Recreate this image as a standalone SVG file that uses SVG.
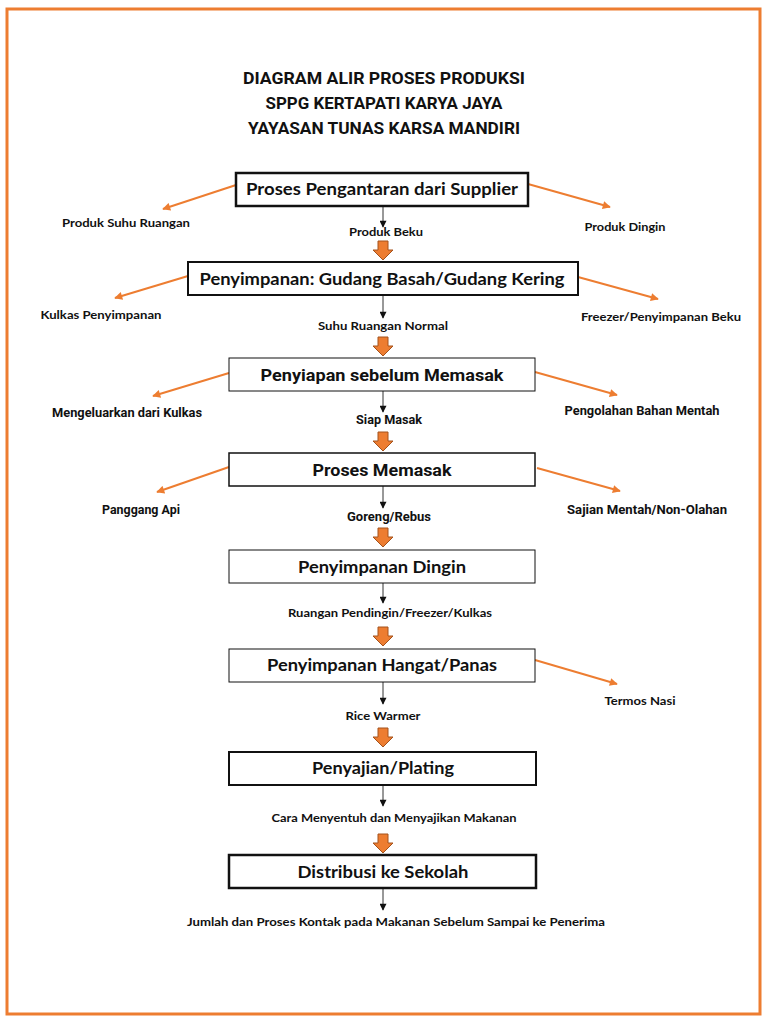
<svg xmlns="http://www.w3.org/2000/svg" width="768" height="1024" viewBox="0 0 768 1024">
<defs>
<style>
.frame{fill:#fff;stroke:#ED7D31;stroke-width:3}
.box{fill:#fff;stroke:#111}
.t{font-family:Lato,"Liberation Sans",sans-serif;font-weight:700;font-size:17px;fill:#111;text-anchor:middle}
.tc{font-family:Roboto,"Liberation Sans",sans-serif;font-weight:700;font-size:17px;fill:#111;text-anchor:middle}
.title{font-family:Roboto,"Liberation Sans",sans-serif;font-weight:700;font-size:16px;fill:#111;text-anchor:middle}
.l{font-family:Lato,"Liberation Sans",sans-serif;font-weight:700;font-size:11.5px;fill:#111;text-anchor:middle}
.lc{font-family:Roboto,"Liberation Sans",sans-serif;font-weight:700;font-size:12px;fill:#111;text-anchor:middle}
.side{stroke:#ED7D31;stroke-width:2;fill:none;marker-end:url(#oh)}
.down{stroke:#333;stroke-width:1;fill:none;marker-end:url(#bh)}
.blk{fill:#ED7D31;stroke:#A4521C;stroke-width:1}
</style>
<marker id="oh" viewBox="0 0 10 10" refX="9" refY="5" markerWidth="9" markerHeight="8" markerUnits="userSpaceOnUse" orient="auto">
<path d="M0,0 L10,5 L0,10 z" fill="#ED7D31"/>
</marker>
<marker id="bh" viewBox="0 0 10 10" refX="9" refY="5" markerWidth="8" markerHeight="7" markerUnits="userSpaceOnUse" orient="auto">
<path d="M0,0 L10,5 L0,10 z" fill="#111"/>
</marker>
<path id="ba" d="M-5,0 h10 v9 h5 l-10,10 l-10,-10 h5 z"/>
</defs>

<rect class="frame" x="7" y="9" width="753" height="1005"/>

<g id="title">
<text class="title" x="384" y="84" textLength="282" lengthAdjust="spacingAndGlyphs">DIAGRAM ALIR PROSES PRODUKSI</text>
<text class="title" x="384" y="109" textLength="237" lengthAdjust="spacingAndGlyphs">SPPG KERTAPATI KARYA JAYA</text>
<text class="title" x="384" y="134" textLength="272" lengthAdjust="spacingAndGlyphs">YAYASAN TUNAS KARSA MANDIRI</text>
</g>

<g id="connectors">
<line class="side" x1="236" y1="185" x2="163" y2="209"/>
<line class="side" x1="528" y1="184" x2="610" y2="207"/>
<line class="side" x1="188" y1="276" x2="115" y2="298"/>
<line class="side" x1="578" y1="277" x2="658" y2="299"/>
<line class="side" x1="229" y1="373" x2="153" y2="396"/>
<line class="side" x1="535" y1="372" x2="617" y2="395"/>
<line class="side" x1="229" y1="467" x2="157" y2="492"/>
<line class="side" x1="537" y1="468" x2="620" y2="491"/>
<line class="side" x1="535" y1="660" x2="617" y2="684"/>

<line class="down" x1="383" y1="206" x2="383" y2="227"/>
<line class="down" x1="383" y1="295" x2="383" y2="318"/>
<line class="down" x1="383" y1="391" x2="383" y2="412"/>
<line class="down" x1="383" y1="486" x2="383" y2="508"/>
<line class="down" x1="383" y1="583" x2="383" y2="603"/>
<line class="down" x1="383" y1="682" x2="383" y2="704"/>
<line class="down" x1="383" y1="785" x2="383" y2="806"/>
<line class="down" x1="383" y1="888" x2="383" y2="910"/>

<use href="#ba" class="blk" x="383" y="241"/>
<use href="#ba" class="blk" x="383" y="337"/>
<use href="#ba" class="blk" x="383" y="432"/>
<use href="#ba" class="blk" x="383" y="528"/>
<use href="#ba" class="blk" x="383" y="627"/>
<use href="#ba" class="blk" x="383" y="728"/>
<use href="#ba" class="blk" x="383" y="834"/>
</g>

<g id="n1">
<rect class="box" x="236" y="173" width="292" height="33" stroke-width="2.5"/>
<text class="t" x="382" y="194.5" textLength="272" lengthAdjust="spacingAndGlyphs">Proses Pengantaran dari Supplier</text>
</g>
<g id="n2">
<rect class="box" x="188" y="262" width="390" height="33" stroke-width="2"/>
<text class="t" x="382" y="284.5" textLength="365" lengthAdjust="spacingAndGlyphs">Penyimpanan: Gudang Basah/Gudang Kering</text>
</g>
<g id="n3">
<rect class="box" x="229" y="358" width="306" height="33" stroke-width="1"/>
<text class="tc" x="382" y="380.5" textLength="243" lengthAdjust="spacingAndGlyphs">Penyiapan sebelum Memasak</text>
</g>
<g id="n4">
<rect class="box" x="229" y="453" width="306" height="33" stroke-width="1.5"/>
<text class="tc" x="382" y="475.5" textLength="139" lengthAdjust="spacingAndGlyphs">Proses Memasak</text>
</g>
<g id="n5">
<rect class="box" x="229" y="550" width="306" height="33" stroke-width="1"/>
<text class="t" x="382" y="572.5" textLength="168" lengthAdjust="spacingAndGlyphs">Penyimpanan Dingin</text>
</g>
<g id="n6">
<rect class="box" x="229" y="649" width="306" height="33" stroke-width="1"/>
<text class="t" x="382" y="670.5" textLength="230" lengthAdjust="spacingAndGlyphs">Penyimpanan Hangat/Panas</text>
</g>
<g id="n7">
<rect class="box" x="229" y="752" width="307" height="33" stroke-width="2"/>
<text class="t" x="383" y="773.5" textLength="142" lengthAdjust="spacingAndGlyphs">Penyajian/Plating</text>
</g>
<g id="n8">
<rect class="box" x="229" y="855" width="307" height="33" stroke-width="2.5"/>
<text class="t" x="383" y="877.5" textLength="171" lengthAdjust="spacingAndGlyphs">Distribusi ke Sekolah</text>
</g>

<g id="labels">
<text class="l" x="126" y="227" textLength="128" lengthAdjust="spacingAndGlyphs">Produk Suhu Ruangan</text>
<text class="l" x="386" y="236" textLength="74" lengthAdjust="spacingAndGlyphs">Produk Beku</text>
<text class="l" x="625" y="231" textLength="81" lengthAdjust="spacingAndGlyphs">Produk Dingin</text>
<text class="l" x="101" y="319" textLength="121" lengthAdjust="spacingAndGlyphs">Kulkas Penyimpanan</text>
<text class="l" x="383" y="330" textLength="130" lengthAdjust="spacingAndGlyphs">Suhu Ruangan Normal</text>
<text class="l" x="661" y="321" textLength="160" lengthAdjust="spacingAndGlyphs">Freezer/Penyimpanan Beku</text>
<text class="lc" x="127" y="417" textLength="150" lengthAdjust="spacingAndGlyphs">Mengeluarkan dari Kulkas</text>
<text class="lc" x="389" y="424" textLength="66" lengthAdjust="spacingAndGlyphs">Siap Masak</text>
<text class="lc" x="642" y="415" textLength="155" lengthAdjust="spacingAndGlyphs">Pengolahan Bahan Mentah</text>
<text class="lc" x="141" y="514" textLength="78" lengthAdjust="spacingAndGlyphs">Panggang Api</text>
<text class="lc" x="389" y="521" textLength="84" lengthAdjust="spacingAndGlyphs">Goreng/Rebus</text>
<text class="lc" x="647" y="514" textLength="160" lengthAdjust="spacingAndGlyphs">Sajian Mentah/Non-Olahan</text>
<text class="l" x="390" y="617" textLength="204" lengthAdjust="spacingAndGlyphs">Ruangan Pendingin/Freezer/Kulkas</text>
<text class="l" x="640" y="705" textLength="71" lengthAdjust="spacingAndGlyphs">Termos Nasi</text>
<text class="l" x="383" y="720" textLength="75" lengthAdjust="spacingAndGlyphs">Rice Warmer</text>
<text class="l" x="394" y="822" textLength="245" lengthAdjust="spacingAndGlyphs">Cara Menyentuh dan Menyajikan Makanan</text>
<text class="l" x="396" y="926" textLength="418" lengthAdjust="spacingAndGlyphs">Jumlah dan Proses Kontak pada Makanan Sebelum Sampai ke Penerima</text>
</g>
</svg>
